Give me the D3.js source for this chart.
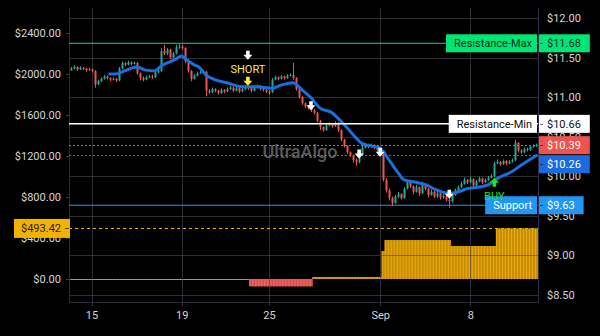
<!DOCTYPE html>
<html>
<head>
<meta charset="utf-8">
<script src="https://cdn.jsdelivr.net/npm/d3@7"></script>
<style>
  html, body { margin: 0; padding: 0; background: #000; }
  svg { display: block; }
  text { font-family: Roboto, "Liberation Sans", sans-serif; }
</style>
</head>
<body>
<svg id="chart" width="600" height="336"></svg>
<script>
// ---- price candles (opens follow the previous close) ----
const firstOpen = 11.34;
const closes = [
  11.36,11.38,11.35,11.37,11.36,11.34,11.35,11.33,11.16,11.20,
  11.23,11.26,11.24,11.22,11.23,11.21,11.36,11.43,11.41,11.44,
  11.42,11.43,11.30,11.24,11.22,11.25,11.26,11.25,11.31,11.33,
  11.58,11.55,11.60,11.50,11.55,11.63,11.64,11.62,11.45,11.33,
  11.23,11.27,11.30,11.31,11.32,11.08,11.06,11.10,11.08,11.05,
  11.09,11.07,11.10,11.12,11.08,11.11,11.07,11.10,11.13,11.11,
  11.08,11.12,11.14,11.10,11.09,11.07,11.06,11.22,11.25,11.23,
  11.26,11.24,11.27,11.28,11.24,11.10,11.00,10.92,10.88,10.86,
  10.83,10.80,10.70,10.62,10.58,10.64,10.66,10.63,10.67,10.58,
  10.46,10.38,10.30,10.26,10.20,10.18,10.26,10.36,10.40,10.37,
  10.39,10.36,10.33,10.30,9.95,9.82,9.72,9.66,9.74,9.77,
  9.72,9.84,9.92,9.87,9.80,9.86,9.78,9.90,9.84,9.76,
  9.80,9.74,9.78,9.73,9.75,9.70,9.68,9.76,9.82,9.86,
  9.90,9.95,9.92,9.96,9.88,9.93,9.97,9.92,9.95,9.98,
  10.00,10.16,10.18,10.15,10.19,10.16,10.18,10.20,10.42,10.32,
  10.30,10.34,10.33,10.37,10.38,10.39
];
const highs = [
  11.38,11.40,11.39,11.39,11.38,11.37,11.37,11.36,11.34,11.22,
  11.25,11.28,11.27,11.25,11.25,11.24,11.38,11.45,11.44,11.46,
  11.45,11.45,11.44,11.31,11.26,11.27,11.28,11.28,11.33,11.35,
  11.62,11.66,11.62,11.61,11.57,11.66,11.67,11.66,11.63,11.46,
  11.34,11.29,11.32,11.33,11.34,11.33,11.10,11.12,11.11,11.09,
  11.11,11.10,11.12,11.14,11.13,11.13,11.12,11.12,11.15,11.14,
  11.12,11.14,11.16,11.15,11.12,11.10,11.09,11.24,11.27,11.26,
  11.28,11.27,11.29,11.30,11.43,11.25,11.11,11.01,10.93,10.90,
  10.88,10.85,10.81,10.71,10.63,10.66,10.68,10.67,10.69,10.68,
  10.59,10.47,10.39,10.31,10.27,10.22,10.28,10.38,10.42,10.41,
  10.41,10.40,10.37,10.34,10.31,9.97,9.84,9.74,9.76,9.80,
  9.78,9.86,9.95,9.93,9.88,9.89,9.87,9.93,9.91,9.85,
  9.83,9.81,9.80,9.79,9.77,9.76,9.72,9.78,9.84,9.88,
  9.93,9.98,9.96,9.99,9.97,9.95,9.99,9.98,9.97,10.00,
  10.02,10.18,10.21,10.19,10.21,10.20,10.20,10.22,10.46,10.43,
  10.34,10.36,10.36,10.39,10.40,10.41
];
const lows = [
  11.33,11.35,11.33,11.34,11.34,11.32,11.33,11.31,11.12,11.15,
  11.19,11.22,11.22,11.20,11.21,11.19,11.20,11.35,11.39,11.40,
  11.40,11.41,11.28,11.21,11.20,11.21,11.24,11.23,11.24,11.30,
  11.32,11.53,11.53,11.48,11.49,11.54,11.61,11.60,11.43,11.31,
  11.20,11.22,11.26,11.29,11.30,11.01,11.04,11.05,11.06,11.03,
  11.04,11.05,11.06,11.09,11.06,11.07,11.05,11.06,11.09,11.09,
  11.06,11.07,11.11,11.08,11.07,11.05,11.03,11.05,11.21,11.21,
  11.22,11.22,11.23,11.26,11.22,11.08,10.98,10.90,10.86,10.84,
  10.81,10.78,10.68,10.58,10.56,10.57,10.63,10.61,10.62,10.56,
  10.44,10.36,10.28,10.24,10.17,10.13,10.16,10.25,10.35,10.35,
  10.36,10.34,10.31,10.28,9.93,9.79,9.69,9.62,9.65,9.72,
  9.70,9.71,9.83,9.85,9.77,9.79,9.75,9.77,9.82,9.73,
  9.75,9.72,9.72,9.70,9.71,9.68,9.60,9.66,9.75,9.80,
  9.85,9.89,9.90,9.91,9.86,9.87,9.92,9.90,9.91,9.94,
  9.97,9.99,10.15,10.13,10.14,10.14,10.15,10.17,10.19,10.30,
  10.28,10.29,10.31,10.32,10.36,10.37
];

// ---- trend average (sampled by candle index) ----
const maIdx = [13,15,18,22,23,25,28,30,32,35,37,38,41,43,45,48,52,57,62,67,
               70,74,77,80,83,87,89,92,95,97,100,103,106,109,111,115,118,122,126,129,
               132,136,139,142,147,150,155];
const maVal = [11.29,11.29,11.33,11.38,11.37,11.34,11.33,11.39,11.43,11.48,11.52,11.49,11.41,11.37,11.28,11.22,11.18,11.13,11.13,11.11,
               11.15,11.18,11.09,10.99,10.86,10.80,10.73,10.61,10.48,10.41,10.38,10.35,10.20,10.04,9.95,9.92,9.89,9.82,9.78,9.80,
               9.84,9.86,9.89,9.97,10.06,10.14,10.26];

// ---- strategy equity, as steps starting at a candle index ----
const equityStart = [0, 60, 81, 104, 105, 127, 142];
const equityValue = [0, -72, 20, 273, 380, 322, 493.42];

// ---- levels ----
const levelNames  = ["Resistance-Max", "Resistance-Min", "Support"];
const levelValues = [11.68, 10.66, 9.63];
const lastPrice = 10.39;
const lastAverage = 10.26;
const lastEquity = 493.42;

// ---- signals ----
const signalKind  = ["exit", "short", "exit", "exit", "exit", "exit", "buy"];
const signalIdx   = [59, 59, 80, 96, 103, 126, 141];
const signalPrice = [11.53, 11.20, 10.89, 10.28, 10.30, 9.77, 9.92];

// ---- axes ----
const priceTicks  = [8.5, 9, 9.5, 10, 10.5, 11, 11.5, 12];
const equityTicks = [0, 400, 800, 1200, 1600, 2000, 2400];
const timeTickIdx    = [7, 37, 66, 103, 133];
const timeTickLabels = ["15", "19", "25", "Sep", "8"];

// ---------------------------------------------------------------
const svg = d3.select("#chart");
const plot = { left: 69, right: 538, top: 8, bottom: 302 };
const n = closes.length;

const x = d3.scaleLinear().domain([-0.5, n - 0.5]).range([plot.left, plot.right]);
const step = x(1) - x(0);
const yP = d3.scaleLinear().domain([8.5, 12]).range([294.5, 18]);
const yE = d3.scaleLinear().domain([0, 2400]).range([279, 33]);

const candles = closes.map((c, i) => ({
  i, o: i === 0 ? firstOpen : closes[i - 1], c, h: highs[i], l: lows[i]
}));

const equity = closes.map((_, i) => {
  let v = 0;
  equityStart.forEach((s, k) => { if (i >= s) v = equityValue[k]; });
  return { i, v };
});

svg.append("rect").attr("width", 600).attr("height", 336).attr("fill", "#000");

// equity histogram
const hist = svg.append("g");
equity.forEach(d => {
  const y0 = yE(0), y1 = yE(d.v);
  const top = Math.min(y0, y1);
  const h = Math.max(1, Math.abs(y1 - y0));
  const x0 = x(d.i) - step / 2;
  const neg = d.v < 0;
  hist.append("rect").attr("x", x0).attr("y", top).attr("width", step + 0.3).attr("height", h)
    .attr("fill", neg ? "#e24a4a" : "#c78e02");
  hist.append("rect").attr("x", x0).attr("y", top).attr("width", 0.9).attr("height", h)
    .attr("fill", neg ? "#f47c7c" : "#eeae18");
});

// grid
const grid = svg.append("g").attr("stroke", "rgba(72,72,84,0.62)").attr("stroke-width", 1);
priceTicks.forEach(t => {
  const y = Math.round(yP(t)) + 0.5;
  grid.append("line").attr("x1", plot.left).attr("x2", plot.right).attr("y1", y).attr("y2", y);
});
timeTickIdx.forEach(t => {
  const xx = Math.round(x(t)) + 0.5;
  grid.append("line").attr("x1", xx).attr("x2", xx).attr("y1", plot.top).attr("y2", plot.bottom + 4);
});

// frame
svg.append("line").attr("x1", plot.left + 0.5).attr("x2", plot.left + 0.5)
  .attr("y1", plot.top).attr("y2", plot.bottom).attr("stroke", "#2d2d3a");
svg.append("line").attr("x1", plot.right + 0.5).attr("x2", plot.right + 0.5)
  .attr("y1", plot.top).attr("y2", plot.bottom).attr("stroke", "#30304c");
svg.append("line").attr("x1", plot.left).attr("x2", plot.right + 1)
  .attr("y1", plot.bottom + 0.5).attr("y2", plot.bottom + 0.5).attr("stroke", "#2d2d3a");

// watermark
svg.append("text").attr("x", 300).attr("y", 158).attr("text-anchor", "middle")
  .attr("font-size", 18).attr("font-weight", 500).attr("fill", "#5a5a5a").text("UltraAlgo");

// candles
const up = "#26a69a", down = "#ef5350";
const cg = svg.append("g");
candles.forEach(d => {
  const col = d.c >= d.o ? up : down;
  const cx = Math.round(x(d.i)) + 0.5;
  cg.append("line").attr("x1", cx).attr("x2", cx).attr("y1", yP(d.h)).attr("y2", yP(d.l))
    .attr("stroke", col).attr("stroke-width", 1);
  const t = yP(Math.max(d.o, d.c)), b = yP(Math.min(d.o, d.c));
  cg.append("rect").attr("x", cx - 1).attr("y", t).attr("width", 2).attr("height", Math.max(1, b - t))
    .attr("fill", col);
});

// trend average
const maPts = maIdx.map((k, j) => [k, maVal[j]]);
svg.append("path").datum(maPts)
  .attr("d", d3.line().x(d => x(d[0])).y(d => yP(d[1])).curve(d3.curveMonotoneX))
  .attr("fill", "none").attr("stroke", "#1a6fe0").attr("stroke-width", 3)
  .attr("stroke-linejoin", "round").attr("stroke-linecap", "round");

// horizontal price lines
const levelColors = ["#00e676", "#ffffff", "#2196f3"];
const levelWidths = [1, 1.5, 1];
levelValues.forEach((v, k) => {
  svg.append("line").attr("x1", plot.left).attr("x2", plot.right)
    .attr("y1", yP(v)).attr("y2", yP(v))
    .attr("stroke", levelColors[k]).attr("stroke-width", levelWidths[k]);
});
svg.append("line").attr("x1", plot.left).attr("x2", plot.right)
  .attr("y1", Math.round(yP(lastPrice)) + 0.5).attr("y2", Math.round(yP(lastPrice)) + 0.5)
  .attr("stroke", "#ef5350").attr("stroke-dasharray", "2,2");
svg.append("line").attr("x1", plot.left).attr("x2", plot.right)
  .attr("y1", Math.round(yP(lastAverage)) + 0.5).attr("y2", Math.round(yP(lastAverage)) + 0.5)
  .attr("stroke", "#2a7be6").attr("stroke-dasharray", "2,2");
svg.append("line").attr("x1", plot.left).attr("x2", plot.right)
  .attr("y1", Math.round(yE(lastEquity)) + 0.5).attr("y2", Math.round(yE(lastEquity)) + 0.5)
  .attr("stroke", "#f0b000").attr("stroke-dasharray", "3,3");

// axes
const axisColor = "#d6d6d6";
const rightAxis = svg.append("g").attr("transform", `translate(${plot.right},0)`)
  .call(d3.axisRight(yP).tickValues(priceTicks).tickFormat(d => "$" + d.toFixed(2)).tickSize(0).tickPadding(9));
const leftAxis = svg.append("g").attr("transform", `translate(${plot.left},0)`)
  .call(d3.axisLeft(yE).tickValues(equityTicks).tickFormat(d => "$" + d.toFixed(2)).tickSize(3).tickPadding(5));
const bottomAxis = svg.append("g").attr("transform", `translate(0,${plot.bottom})`)
  .call(d3.axisBottom(x).tickValues(timeTickIdx).tickFormat((d, i) => timeTickLabels[i]).tickSize(0).tickPadding(9));
[rightAxis, leftAxis, bottomAxis].forEach(a => {
  a.select(".domain").remove();
  a.selectAll("text").attr("fill", axisColor).attr("font-size", 11).attr("font-family", "Roboto, 'Liberation Sans', sans-serif");
  a.selectAll("line").attr("stroke", "#3a3a44");
});

// right-axis value labels, stacked so they never overlap
const tags = [
  { v: levelValues[0], bg: "#00e676", fg: "#0a2a1a", name: levelNames[0] },
  { v: levelValues[1], bg: "#ffffff", fg: "#111111", name: levelNames[1] },
  { v: lastPrice,      bg: "#ef5350", fg: "#ffffff" },
  { v: lastAverage,    bg: "#1a6ae0", fg: "#ffffff" },
  { v: levelValues[2], bg: "#2196f3", fg: "#ffffff", name: levelNames[2] }
];
const tagH = 18;
tags.forEach(t => t.y = yP(t.v));
tags.sort((a, b) => a.y - b.y);
for (let k = 1; k < tags.length; k++) {
  if (tags[k].y - tags[k - 1].y < tagH + 1) tags[k].y = tags[k - 1].y + tagH + 1;
}
const tg = svg.append("g").attr("font-size", 11);
tags.forEach(t => {
  const label = "$" + t.v.toFixed(2);
  const box = tg.append("rect").attr("x", plot.right + 1).attr("y", t.y - tagH / 2).attr("height", tagH).attr("fill", t.bg);
  const txt = tg.append("text").attr("x", plot.right + 9).attr("y", t.y).attr("dy", "0.35em")
    .attr("fill", t.fg).text(label);
  box.attr("width", txt.node().getComputedTextLength() + 17);
  tg.append("line").attr("x1", plot.right + 2).attr("x2", plot.right + 5)
    .attr("y1", Math.round(t.y) + 0.5).attr("y2", Math.round(t.y) + 0.5).attr("stroke", "rgba(0,0,0,0.55)");
  if (t.name) {
    const nt = tg.append("text").attr("y", t.y).attr("dy", "0.35em").attr("fill", t.fg).text(t.name);
    const w = nt.node().getComputedTextLength() + 13;
    const bx = plot.right - 1 - w;
    tg.insert("rect", () => nt.node()).attr("x", bx).attr("y", t.y - tagH / 2)
      .attr("width", w).attr("height", tagH).attr("fill", t.bg);
    nt.attr("x", bx + 8);
  }
});

// left-axis equity label
const ey = yE(lastEquity);
const et = svg.append("text").attr("x", 61).attr("y", ey).attr("dy", "0.35em").attr("text-anchor", "end")
  .attr("font-size", 11).attr("fill", "#2a1f00").text("$" + lastEquity.toFixed(2));
svg.insert("rect", () => et.node()).attr("x", 14).attr("y", ey - 9.5).attr("width", plot.left - 14 + 1)
  .attr("height", 19).attr("fill", "#f2b200");
svg.append("line").attr("x1", 65).attr("x2", 69).attr("y1", Math.round(ey) + 0.5).attr("y2", Math.round(ey) + 0.5)
  .attr("stroke", "rgba(0,0,0,0.6)");

// signal markers, drawn last so they sit above the level tags
function arrowPath(dir) {
  // dir = 1 points down, -1 points up
  const p = [[-1.8, -4.5], [1.8, -4.5], [1.8, -0.5], [4.5, -0.5], [0, 4.5], [-4.5, -0.5], [-1.8, -0.5]];
  return "M" + p.map(q => [q[0], q[1] * dir].join(",")).join("L") + "Z";
}
const mg = svg.append("g");
signalKind.forEach((kind, k) => {
  const cx = x(signalIdx[k]), cy = yP(signalPrice[k]);
  if (kind === "exit") {
    mg.append("path").attr("d", arrowPath(1)).attr("transform", `translate(${cx},${cy})`).attr("fill", "#ffffff");
  } else if (kind === "short") {
    mg.append("path").attr("d", arrowPath(1)).attr("transform", `translate(${cx},${cy})`).attr("fill", "#ffeb3b");
    mg.append("text").attr("x", cx).attr("y", cy - 8).attr("text-anchor", "middle")
      .attr("font-size", 11).attr("fill", "#ffeb3b").text("SHORT");
  } else {
    mg.append("path").attr("d", arrowPath(-1)).attr("transform", `translate(${cx},${cy})`).attr("fill", "#22e022");
    mg.append("text").attr("x", cx).attr("y", cy + 18).attr("text-anchor", "middle")
      .attr("font-size", 11).attr("fill", "#22e022").text("BUY");
  }
});
</script>
</body>
</html>
